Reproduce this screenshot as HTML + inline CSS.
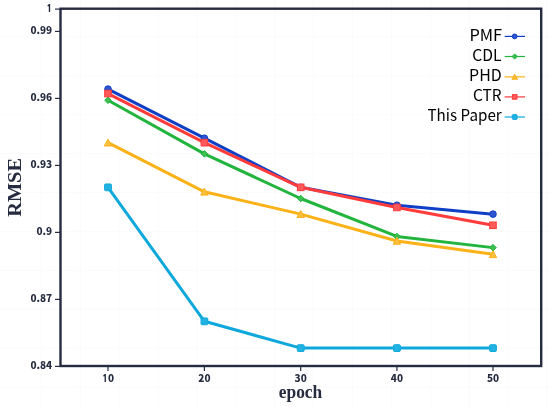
<!DOCTYPE html>
<html><head><meta charset="utf-8"><style>
html,body{margin:0;padding:0;background:#fff;width:550px;height:407px;overflow:hidden}
svg{display:block}
.tl{font-family:"Liberation Sans","Noto Sans CJK SC",sans-serif;font-weight:bold;font-size:10.5px;fill:#262c40}
.tn{font-family:"Noto Sans CJK SC","Liberation Sans",sans-serif;font-weight:900;font-size:10px;fill:#262c40}
.one{font-family:"NanumGothic","Liberation Sans",sans-serif;font-weight:800}
.lg{font-family:"Noto Sans CJK SC","Liberation Sans",sans-serif;font-size:15.3px;font-weight:400;fill:#000}
.an{font-family:"Liberation Serif",serif;font-weight:bold;font-size:19px;fill:#262c40}
</style></head><body>
<svg width="550" height="407" viewBox="0 0 550 407">
<rect width="550" height="407" fill="#fff"/>
<path d="M41.4 0V407M80.3 0V407M119.2 0V407M158.1 0V407M197.0 0V407M235.9 0V407M274.8 0V407M313.7 0V407M352.6 0V407M391.5 0V407M430.4 0V407M469.3 0V407M508.2 0V407M547.1 0V407M0 37.0H550M0 75.9H550M0 114.8H550M0 153.7H550M0 192.6H550M0 231.5H550M0 270.4H550M0 309.3H550M0 348.2H550M0 387.1H550M0 426.0H550" stroke="#fbfbfb" stroke-width="1" fill="none"/>
<rect x="60.5" y="8.7" width="480.70" height="357.30" fill="none" stroke="#262c40" stroke-width="2.4"/>
<line x1="55.0" y1="9.10" x2="60.5" y2="9.10" stroke="#262c40" stroke-width="1.2"/>
<text x="52.2" y="11.60" text-anchor="end" class="tn"><tspan class="one">1</tspan></text>
<line x1="55.0" y1="31.43" x2="60.5" y2="31.43" stroke="#262c40" stroke-width="1.2"/>
<text x="52.2" y="33.93" text-anchor="end" class="tn">0.99</text>
<line x1="55.0" y1="98.42" x2="60.5" y2="98.42" stroke="#262c40" stroke-width="1.2"/>
<text x="52.2" y="100.92" text-anchor="end" class="tn">0.96</text>
<line x1="55.0" y1="165.41" x2="60.5" y2="165.41" stroke="#262c40" stroke-width="1.2"/>
<text x="52.2" y="167.91" text-anchor="end" class="tn">0.93</text>
<line x1="55.0" y1="232.40" x2="60.5" y2="232.40" stroke="#262c40" stroke-width="1.2"/>
<text x="52.2" y="234.90" text-anchor="end" class="tn">0.9</text>
<line x1="55.0" y1="299.39" x2="60.5" y2="299.39" stroke="#262c40" stroke-width="1.2"/>
<text x="52.2" y="301.89" text-anchor="end" class="tn">0.87</text>
<line x1="55.0" y1="366.38" x2="60.5" y2="366.38" stroke="#262c40" stroke-width="1.2"/>
<text x="52.2" y="368.88" text-anchor="end" class="tn">0.84</text>
<line x1="108.00" y1="366.0" x2="108.00" y2="371.00" stroke="#262c40" stroke-width="1.2"/>
<text x="108.00" y="381.5" text-anchor="middle" class="tn"><tspan class="one">1</tspan>0</text>
<line x1="204.40" y1="366.0" x2="204.40" y2="371.00" stroke="#262c40" stroke-width="1.2"/>
<text x="204.40" y="381.5" text-anchor="middle" class="tn">20</text>
<line x1="300.70" y1="366.0" x2="300.70" y2="371.00" stroke="#262c40" stroke-width="1.2"/>
<text x="300.70" y="381.5" text-anchor="middle" class="tn">30</text>
<line x1="396.90" y1="366.0" x2="396.90" y2="371.00" stroke="#262c40" stroke-width="1.2"/>
<text x="396.90" y="381.5" text-anchor="middle" class="tn">40</text>
<line x1="493.00" y1="366.0" x2="493.00" y2="371.00" stroke="#262c40" stroke-width="1.2"/>
<text x="493.00" y="381.5" text-anchor="middle" class="tn">50</text>
<text transform="translate(300.5 397.9) scale(0.965 1)" text-anchor="middle" class="an" style="font-size:18px">epoch</text>
<text transform="translate(20.7 187.4) rotate(-90) scale(1.07 1)" x="0" y="0" text-anchor="middle" class="an">RMSE</text>
<polyline points="108.00,89.09 204.40,138.21 300.70,187.34 396.90,205.20 493.00,214.14" fill="none" stroke="#0f3fc6" stroke-width="3" stroke-linejoin="round" stroke-linecap="round"/>
<circle cx="108.00" cy="89.09" r="3.30" fill="#2f55d0" stroke="#0f3fc6" stroke-width="1"/>
<circle cx="204.40" cy="138.21" r="3.30" fill="#2f55d0" stroke="#0f3fc6" stroke-width="1"/>
<circle cx="300.70" cy="187.34" r="3.30" fill="#2f55d0" stroke="#0f3fc6" stroke-width="1"/>
<circle cx="396.90" cy="205.20" r="3.30" fill="#2f55d0" stroke="#0f3fc6" stroke-width="1"/>
<circle cx="493.00" cy="214.14" r="3.30" fill="#2f55d0" stroke="#0f3fc6" stroke-width="1"/>
<polyline points="108.00,100.25 204.40,153.84 300.70,198.50 396.90,236.47 493.00,247.63" fill="none" stroke="#22b43c" stroke-width="3" stroke-linejoin="round" stroke-linecap="round"/>
<path d="M108.00 96.95L111.30 100.25L108.00 103.55L104.70 100.25Z" fill="#3cbf52" stroke="#22b43c" stroke-width="1" stroke-linejoin="round"/>
<path d="M204.40 150.54L207.70 153.84L204.40 157.14L201.10 153.84Z" fill="#3cbf52" stroke="#22b43c" stroke-width="1" stroke-linejoin="round"/>
<path d="M300.70 195.20L304.00 198.50L300.70 201.80L297.40 198.50Z" fill="#3cbf52" stroke="#22b43c" stroke-width="1" stroke-linejoin="round"/>
<path d="M396.90 233.17L400.20 236.47L396.90 239.77L393.60 236.47Z" fill="#3cbf52" stroke="#22b43c" stroke-width="1" stroke-linejoin="round"/>
<path d="M493.00 244.33L496.30 247.63L493.00 250.93L489.70 247.63Z" fill="#3cbf52" stroke="#22b43c" stroke-width="1" stroke-linejoin="round"/>
<polyline points="108.00,142.68 204.40,191.81 300.70,214.14 396.90,240.93 493.00,254.33" fill="none" stroke="#fbb118" stroke-width="3" stroke-linejoin="round" stroke-linecap="round"/>
<path d="M108.00 139.08L111.70 145.98L104.30 145.98Z" fill="#fcc040" stroke="#fbb118" stroke-width="1" stroke-linejoin="round"/>
<path d="M204.40 188.21L208.10 195.11L200.70 195.11Z" fill="#fcc040" stroke="#fbb118" stroke-width="1" stroke-linejoin="round"/>
<path d="M300.70 210.54L304.40 217.44L297.00 217.44Z" fill="#fcc040" stroke="#fbb118" stroke-width="1" stroke-linejoin="round"/>
<path d="M396.90 237.33L400.60 244.23L393.20 244.23Z" fill="#fcc040" stroke="#fbb118" stroke-width="1" stroke-linejoin="round"/>
<path d="M493.00 250.73L496.70 257.63L489.30 257.63Z" fill="#fcc040" stroke="#fbb118" stroke-width="1" stroke-linejoin="round"/>
<polyline points="108.00,93.55 204.40,142.68 300.70,187.34 396.90,207.44 493.00,225.30" fill="none" stroke="#ff3b3b" stroke-width="3" stroke-linejoin="round" stroke-linecap="round"/>
<rect x="104.70" y="90.25" width="6.60" height="6.60" fill="#ff5a5a" stroke="#ff3b3b" stroke-width="1"/>
<rect x="201.10" y="139.38" width="6.60" height="6.60" fill="#ff5a5a" stroke="#ff3b3b" stroke-width="1"/>
<rect x="297.40" y="184.04" width="6.60" height="6.60" fill="#ff5a5a" stroke="#ff3b3b" stroke-width="1"/>
<rect x="393.60" y="204.14" width="6.60" height="6.60" fill="#ff5a5a" stroke="#ff3b3b" stroke-width="1"/>
<rect x="489.70" y="222.00" width="6.60" height="6.60" fill="#ff5a5a" stroke="#ff3b3b" stroke-width="1"/>
<polyline points="108.00,187.34 204.40,321.32 300.70,348.12 396.90,348.12 493.00,348.12" fill="none" stroke="#0ea8dc" stroke-width="3" stroke-linejoin="round" stroke-linecap="round"/>
<rect x="104.60" y="183.94" width="6.80" height="6.80" rx="1.00" fill="#22b2e2" stroke="#0ea8dc" stroke-width="1"/>
<rect x="201.00" y="317.92" width="6.80" height="6.80" rx="1.00" fill="#22b2e2" stroke="#0ea8dc" stroke-width="1"/>
<rect x="297.30" y="344.72" width="6.80" height="6.80" rx="1.00" fill="#22b2e2" stroke="#0ea8dc" stroke-width="1"/>
<rect x="393.50" y="344.72" width="6.80" height="6.80" rx="1.00" fill="#22b2e2" stroke="#0ea8dc" stroke-width="1"/>
<rect x="489.60" y="344.72" width="6.80" height="6.80" rx="1.00" fill="#22b2e2" stroke="#0ea8dc" stroke-width="1"/>
<line x1="504.7" y1="36.4" x2="525.0" y2="36.4" stroke="#0f3fc6" stroke-width="1.2"/>
<circle cx="514.70" cy="36.40" r="2.40" fill="#2f55d0" stroke="#0f3fc6" stroke-width="1"/>
<text transform="translate(502.04 40.60) scale(1.0702 1)" text-anchor="end" class="lg">PMF</text>
<line x1="504.7" y1="56.5" x2="525.0" y2="56.5" stroke="#22b43c" stroke-width="1.2"/>
<path d="M514.70 53.90L517.30 56.50L514.70 59.10L512.10 56.50Z" fill="#3cbf52" stroke="#22b43c" stroke-width="1" stroke-linejoin="round"/>
<text transform="translate(501.51 60.70) scale(1.0239 1)" text-anchor="end" class="lg">CDL</text>
<line x1="504.7" y1="76.9" x2="525.0" y2="76.9" stroke="#fbb118" stroke-width="1.2"/>
<path d="M514.70 74.20L517.50 79.30L511.90 79.30Z" fill="#fcc040" stroke="#fbb118" stroke-width="1" stroke-linejoin="round"/>
<text transform="translate(501.74 81.10) scale(1.0435 1)" text-anchor="end" class="lg">PHD</text>
<line x1="504.7" y1="96.9" x2="525.0" y2="96.9" stroke="#ff3b3b" stroke-width="1.2"/>
<rect x="512.40" y="94.60" width="4.60" height="4.60" fill="#ff5a5a" stroke="#ff3b3b" stroke-width="1"/>
<text transform="translate(501.60 101.10) scale(1.0074 1)" text-anchor="end" class="lg">CTR</text>
<line x1="504.7" y1="117.0" x2="525.0" y2="117.0" stroke="#0ea8dc" stroke-width="1.2"/>
<rect x="512.30" y="114.60" width="4.80" height="4.80" rx="1.00" fill="#22b2e2" stroke="#0ea8dc" stroke-width="1"/>
<text transform="translate(501.70 121.20) scale(0.9939 1)" text-anchor="end" class="lg">This Paper</text>
</svg>
</body></html>
